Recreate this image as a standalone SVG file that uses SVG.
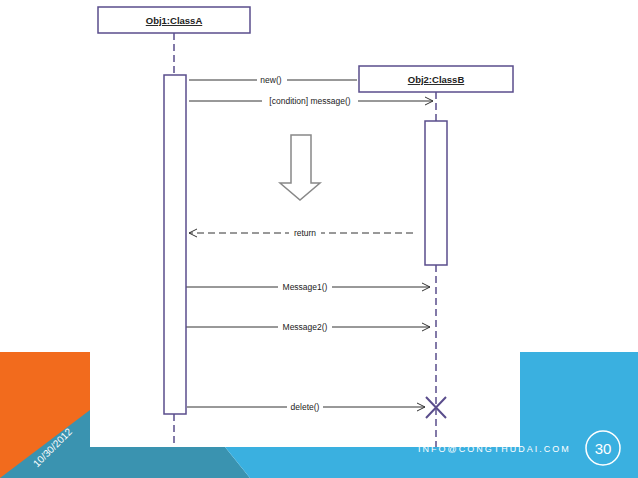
<svg xmlns="http://www.w3.org/2000/svg" width="638" height="478" viewBox="0 0 638 478">
<defs>
<style>
.box{fill:#fff;stroke:#5a4d8c;stroke-width:1.5}
.life{stroke:#5a4d8c;stroke-width:1.5;stroke-dasharray:7,4;fill:none}
.msg{stroke:#333;stroke-width:1;fill:none}
.lbl{font-family:"Liberation Sans",Arial,sans-serif;font-size:8.5px;fill:#222;text-anchor:middle}
.title{font-family:"Liberation Sans",Arial,sans-serif;font-size:9.5px;font-weight:bold;fill:#222;text-anchor:middle;text-decoration:underline}
</style>
<marker id="open" markerWidth="10" markerHeight="10" refX="9" refY="5" orient="auto" markerUnits="userSpaceOnUse"><path d="M1,1 L9,5 L1,9" fill="none" stroke="#333" stroke-width="1"/></marker>
</defs>
<rect width="638" height="478" fill="#fff"/>
<rect x="0" y="352" width="90" height="126" fill="#f26b1d"/>
<polygon points="0,478 90,410 90,478" fill="#3a93b0"/>
<rect x="520" y="352" width="118" height="126" fill="#3ab0e0"/>
<polygon points="90,447 225,447 250,478 90,478" fill="#3a93b0"/>
<polygon points="225,447 520,447 520,478 250,478" fill="#3ab0e0"/>
<text x="418" y="452" font-family="Liberation Sans,Arial,sans-serif" font-size="9" fill="#fff" letter-spacing="2">INFO@CONGTHUDAI.COM</text>
<rect x="90" y="0" width="430" height="447" fill="#fff"/>
<text x="55" y="450" transform="rotate(-45 55 450)" font-family="Liberation Sans,Arial,sans-serif" font-size="10" fill="#fff" text-anchor="middle">10/30/2012</text>
<circle cx="603" cy="448" r="17" fill="none" stroke="#fff" stroke-width="1.5"/>
<text x="603" y="454" font-family="Liberation Sans,Arial,sans-serif" font-size="15" fill="#fff" text-anchor="middle">30</text>
<g id="connectors">
<line class="life" x1="174" y1="33" x2="174" y2="75"/>
<line class="life" x1="174" y1="414" x2="174" y2="447"/>
<line class="life" x1="436" y1="92" x2="436" y2="121"/>
<line class="life" x1="436" y1="265" x2="436" y2="447"/>
<line class="msg" x1="189" y1="80" x2="357" y2="80"/>
<line class="msg" x1="189" y1="101" x2="433" y2="101" marker-end="url(#open)"/>
<line class="msg" x1="413" y1="233" x2="189" y2="233" stroke-dasharray="7,4" marker-end="url(#open)"/>
<line class="msg" x1="181" y1="287" x2="430" y2="287" marker-end="url(#open)"/>
<line class="msg" x1="181" y1="327" x2="430" y2="327" marker-end="url(#open)"/>
<line class="msg" x1="187" y1="407" x2="425" y2="407" marker-end="url(#open)"/>
<rect x="257" y="75" width="30" height="10" fill="#fff"/><text class="lbl" x="271" y="83">new()</text>
<rect x="262" y="96" width="96" height="10" fill="#fff"/><text class="lbl" x="310" y="104">[condition] message()</text>
<rect x="289" y="228" width="32" height="10" fill="#fff"/><text class="lbl" x="305" y="236">return</text>
<rect x="278" y="282" width="54" height="10" fill="#fff"/><text class="lbl" x="305" y="290">Message1()</text>
<rect x="278" y="322" width="54" height="10" fill="#fff"/><text class="lbl" x="305" y="330">Message2()</text>
<rect x="287" y="402" width="36" height="10" fill="#fff"/><text class="lbl" x="305" y="410">delete()</text>
<path d="M291,135 H311 V183 H320 L300,200 L280,183 H291 Z" fill="#fff" stroke="#888" stroke-width="1.5"/>
<path d="M426,397 L446,418 M446,397 L426,418" stroke="#5a4d8c" stroke-width="2"/>
</g>
<g id="obj1"><rect class="box" x="98" y="7" width="152" height="26"/><text class="title" x="174" y="24">Obj1:ClassA</text></g>
<g id="act1"><rect class="box" x="164" y="75" width="22" height="339"/></g>
<g id="obj2"><rect class="box" x="359" y="66" width="154" height="26"/><text class="title" x="436" y="83">Obj2:ClassB</text></g>
<g id="act2"><rect class="box" x="425" y="121" width="22" height="144"/></g>
</svg>
